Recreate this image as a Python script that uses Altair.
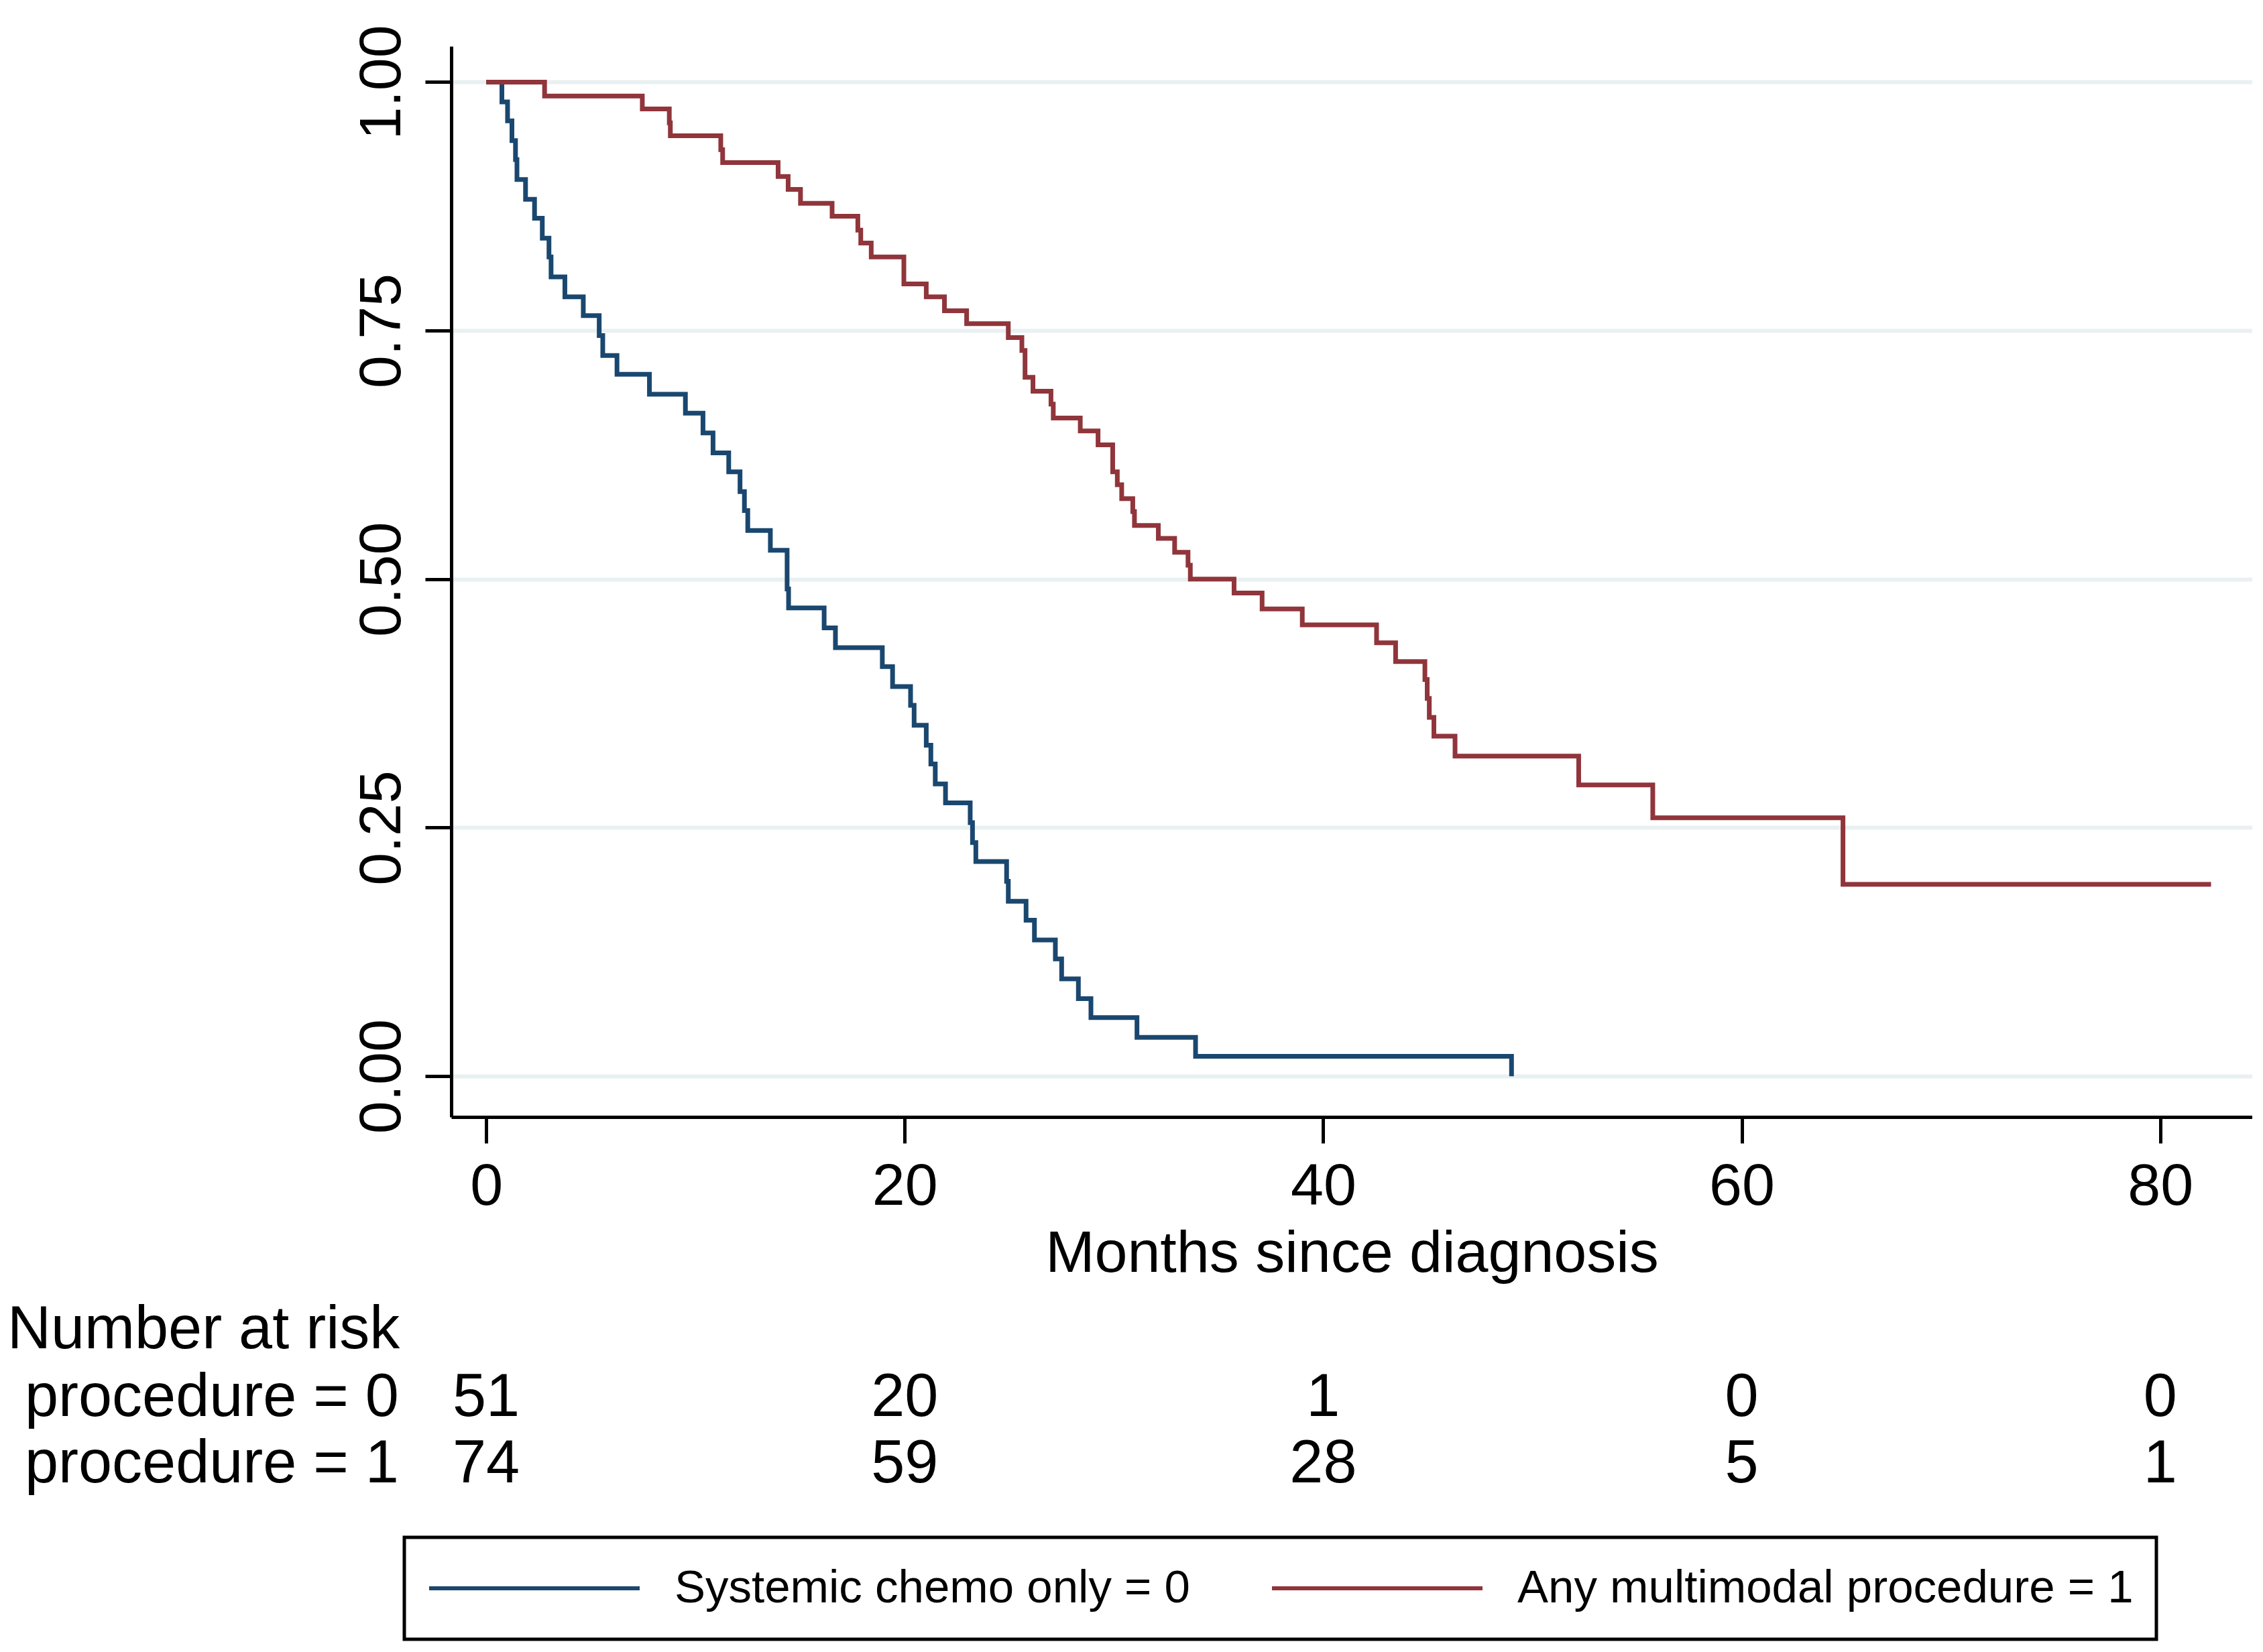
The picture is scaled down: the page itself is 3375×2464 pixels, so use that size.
import altair as alt
import pandas as pd

# ---------------- data ----------------
group_names = ["Systemic chemo only = 0", "Any multimodal procedure = 1"]
group_colors = ["#1A476F", "#90353B"]

blue_t = [0, 0.75, 1.02, 1.23, 1.40, 1.47, 1.88, 2.31, 2.68, 3.0, 3.1, 3.76, 4.64,
          5.40, 5.57, 6.25, 7.8, 9.52, 10.36, 10.84, 11.59, 12.13, 12.34, 12.5,
          13.58, 14.38, 14.45, 16.15, 16.69, 18.93, 19.42, 20.28, 20.45, 21.03,
          21.25, 21.46, 21.95, 23.13, 23.24, 23.40, 24.87, 24.95, 25.8, 26.2,
          27.2, 27.5, 28.3, 28.9, 31.1, 33.9, 49.0]
blue_s = [1.000, 0.980, 0.961, 0.941, 0.922, 0.902, 0.882, 0.863, 0.843, 0.824,
          0.804, 0.784, 0.765, 0.745, 0.725, 0.706, 0.686, 0.667, 0.647, 0.627,
          0.608, 0.588, 0.569, 0.549, 0.529, 0.490, 0.471, 0.451, 0.431, 0.412,
          0.392, 0.373, 0.353, 0.333, 0.314, 0.294, 0.275, 0.255, 0.235, 0.216,
          0.196, 0.176, 0.157, 0.137, 0.118, 0.098, 0.078, 0.059, 0.039, 0.020,
          0.000]

red_t = [0, 2.79, 7.46, 8.75, 8.8, 11.21, 11.3, 13.95, 14.43, 15.02, 16.53, 17.76,
         17.9, 18.4, 19.96, 21.03, 21.9, 22.96, 24.95, 25.6, 25.75, 26.13, 26.99,
         27.1, 28.39, 29.24, 29.94, 30.16, 30.37, 30.9, 30.98, 32.12, 32.9, 33.54,
         33.65, 35.74, 37.08, 39.0, 42.55, 43.46, 44.86, 44.97, 45.07, 45.29,
         46.3, 52.21, 55.75, 64.84, 82.43]
red_s = [1.000, 0.986, 0.973, 0.959, 0.946, 0.932, 0.919, 0.905, 0.892, 0.878,
         0.865, 0.851, 0.838, 0.824, 0.797, 0.784, 0.770, 0.757, 0.743, 0.730,
         0.703, 0.689, 0.676, 0.662, 0.649, 0.635, 0.608, 0.595, 0.581, 0.568,
         0.554, 0.541, 0.527, 0.514, 0.500, 0.486, 0.470, 0.454, 0.436, 0.417,
         0.399, 0.380, 0.361, 0.342, 0.322, 0.293, 0.260, 0.193, 0.193]

x_ticks = [0, 20, 40, 60, 80]
y_ticks = [0.0, 0.25, 0.50, 0.75, 1.00]
x_title = "Months since diagnosis"

risk_title = "Number at risk"
risk_row_labels = ["procedure = 0", "procedure = 1"]
risk_times = [0, 20, 40, 60, 80]
risk_0 = [51, 20, 1, 0, 0]
risk_1 = [74, 59, 28, 5, 1]

# ---------------- layout ----------------
W, H = 2686, 1597
FONT = "Liberation Sans"

df_blue = pd.DataFrame({"t": blue_t, "s": blue_s, "g": group_names[0]})
df_red = pd.DataFrame({"t": red_t, "s": red_s, "g": group_names[1]})
df_r0 = pd.DataFrame({"t": risk_times, "n": risk_0})
df_r1 = pd.DataFrame({"t": risk_times, "n": risk_1})

x_enc = alt.X(
    "t:Q",
    scale=alt.Scale(domain=[-1.67, 84.4], nice=False, zero=False),
    axis=alt.Axis(
        values=x_ticks, title=x_title, grid=False, format="d",
        labelAngle=0, labelAlign="center", labelBaseline="alphabetic",
        labelPadding=91, labelFlush=False, labelOverlap=False,
        titleX=W / 2, titleY=230, titleAlign="center", titleBaseline="alphabetic",
    ),
)
y_enc = alt.Y(
    "s:Q",
    scale=alt.Scale(domain=[-0.041, 1.036], nice=False, zero=False),
    axis=alt.Axis(
        values=y_ticks, format=".2f", title=None, grid=True,
        gridColor="#E9F0F2", gridWidth=6,
        labelAngle=270, labelAlign="center", labelBaseline="alphabetic",
        labelPadding=38, labelFlush=False, labelOverlap=False,
    ),
)
color_enc = alt.Color(
    "g:N",
    scale=alt.Scale(domain=group_names, range=group_colors),
    legend=alt.Legend(
        title=None, orient="none", legendX=-70, legendY=2224,
        direction="horizontal", symbolType="stroke", symbolSize=98596,
        symbolStrokeWidth=6, labelOffset=49, columnPadding=119, padding=34,
        clipHeight=84, strokeColor="black", labelFont=FONT, labelFontSize=69,
        labelColor="black", labelLimit=0,
    ),
)

blue_line = alt.Chart(df_blue).mark_line(
    interpolate="step-after", strokeWidth=7
).encode(x=x_enc, y=y_enc, color=color_enc)
red_line = alt.Chart(df_red).mark_line(
    interpolate="step-after", strokeWidth=7
).encode(x=x_enc, y=y_enc, color=color_enc)

txt = dict(font=FONT, fontSize=90, color="black", baseline="alphabetic")

risk_head = alt.Chart(pd.DataFrame({"label": [risk_title]})).mark_text(
    align="left", **txt
).encode(x=alt.value(-662), y=alt.value(1942), text="label:N")
row0_lab = alt.Chart(pd.DataFrame({"label": [risk_row_labels[0]]})).mark_text(
    align="left", **txt
).encode(x=alt.value(-636), y=alt.value(2043), text="label:N")
row1_lab = alt.Chart(pd.DataFrame({"label": [risk_row_labels[1]]})).mark_text(
    align="left", **txt
).encode(x=alt.value(-636), y=alt.value(2142), text="label:N")
row0_num = alt.Chart(df_r0).mark_text(align="center", **txt).encode(
    x=x_enc, y=alt.value(2043), text="n:Q")
row1_num = alt.Chart(df_r1).mark_text(align="center", **txt).encode(
    x=x_enc, y=alt.value(2142), text="n:Q")

chart = alt.layer(
    blue_line, red_line, risk_head, row0_lab, row1_lab, row0_num, row1_num
).properties(
    width=W, height=H,
    autosize=alt.AutoSizeParams(type="none"),
    padding={"left": 665, "top": 61, "right": 0, "bottom": 782},
    background="white",
).configure_view(stroke=None).configure_axis(
    domainColor="black", domainWidth=5, tickColor="black", tickWidth=5,
    tickSize=39, labelFont=FONT, labelFontSize=88, labelColor="black",
    titleFont=FONT, titleFontSize=88, titleColor="black", titleFontWeight="normal",
).configure_legend(strokeWidth=5)

chart.save("out.html", embed_options={"renderer": "svg", "actions": False})
